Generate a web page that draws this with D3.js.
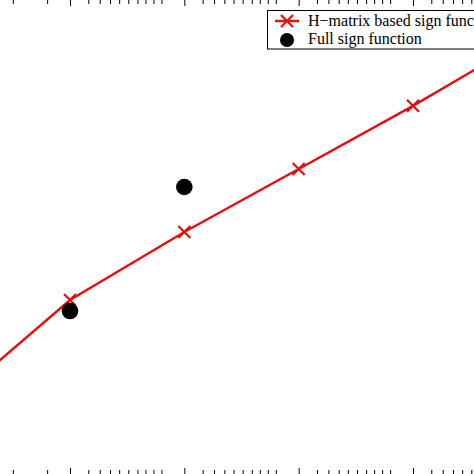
<!DOCTYPE html>
<html><head><meta charset="utf-8">
<script src="https://cdn.jsdelivr.net/npm/d3@7"></script>
<style>html,body{margin:0;padding:0;background:#fff;overflow:hidden}</style>
</head><body>
<svg id="c" width="474" height="474"></svg>
<script>
// Data
const hSizes = [1e0, 1e1, 1e2, 1e3, 1e4, 1e5];
const hTimes = [1.38, 10, 39.5, 141, 505, 1950];
const fullSizes = [1e1, 1e2];
const fullTimes = [8.0, 98];
const xMajorTicks = [1e1, 1e2, 1e3, 1e4];
const xMinorFrac = [0.16, 0.26, 0.35, 0.43, 0.51, 0.59, 0.66, 0.73, 0.80];
const xMinorFirst = [0.5, 0.8];
const legendLabels = ["H\u2212matrix based sign function", "Full sign function"];

const W = 474, H = 474;
const svg = d3.select("#c");
const x = d3.scaleLog().domain([1e1, 1e4]).range([70, 413]);
const y = d3.scaleLog().domain([1, 1e4]).range([414, -42]);

const minorTicks = xMinorFirst.map(f => Math.pow(10, f));
[1, 2, 3, 4].forEach(k => xMinorFrac.forEach(f => minorTicks.push(Math.pow(10, k + f))));

function drawAxis(gen, ty, vals, size) {
  const g = svg.append("g").attr("transform", `translate(0,${ty})`)
    .call(gen(x).tickValues(vals).tickSize(size).tickFormat(""));
  g.select(".domain").remove();
  g.selectAll("line").attr("stroke", "#000").attr("stroke-width", 1);
}
drawAxis(d3.axisBottom, 0, xMajorTicks, 6);
drawAxis(d3.axisBottom, 0, minorTicks, 4);
drawAxis(d3.axisTop, H, xMajorTicks, 6);
drawAxis(d3.axisTop, H, minorTicks, 4);

const red = "#e41010";
const hData = hSizes.map((s, i) => [s, hTimes[i]]);
svg.append("path").datum(hData)
  .attr("d", d3.line().x(d => x(d[0])).y(d => y(d[1])))
  .attr("fill", "none").attr("stroke", red).attr("stroke-width", 2.5);

const ms = 6;
function cross(g, cx, cy) {
  g.append("path")
    .attr("d", `M${cx-ms},${cy-ms}L${cx+ms},${cy+ms}M${cx-ms},${cy+ms}L${cx+ms},${cy-ms}`)
    .attr("stroke", red).attr("stroke-width", 2.2).attr("fill", "none");
}
const mg = svg.append("g");
hData.forEach(d => cross(mg, x(d[0]), y(d[1])));

svg.selectAll("circle.full").data(fullSizes.map((s, i) => [s, fullTimes[i]]))
  .join("circle").attr("class", "full")
  .attr("cx", d => x(d[0])).attr("cy", d => y(d[1])).attr("r", 8.3).attr("fill", "#000");

// Legend
const lg = svg.append("g");
lg.append("rect").attr("x", 267.5).attr("y", 10.5).attr("width", 260).attr("height", 38.5)
  .attr("fill", "#fff").attr("stroke", "#000").attr("stroke-width", 1);
lg.append("line").attr("x1", 275).attr("x2", 299).attr("y1", 21).attr("y2", 21)
  .attr("stroke", red).attr("stroke-width", 2.5);
cross(lg, 287, 21);
lg.append("circle").attr("cx", 287).attr("cy", 40).attr("r", 7).attr("fill", "#000");
lg.selectAll("text").data(legendLabels).join("text")
  .attr("x", 308).attr("y", (d, i) => 26 + i * 18)
  .attr("font-family", "'Liberation Serif', 'Times New Roman', serif")
  .attr("font-size", 16).attr("fill", "#000").text(d => d);
</script>
</body></html>
